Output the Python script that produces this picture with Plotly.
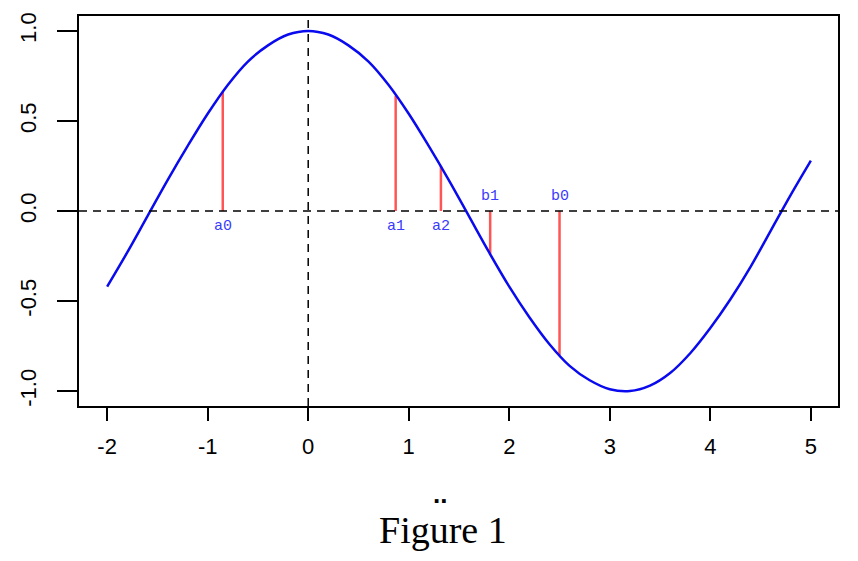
import plotly.graph_objects as go

# curve samples
curve_x = [-2.0, -1.8, -1.6, -1.4, -1.2, -1.0, -0.8, -0.6, -0.4, -0.2, 0.0,
           0.2, 0.4, 0.6, 0.8, 1.0, 1.2, 1.4, 1.6, 1.8, 2.0, 2.2, 2.4, 2.6,
           2.8, 3.0, 3.2, 3.4, 3.6, 3.8, 4.0, 4.2, 4.4, 4.6, 4.8, 5.0]
curve_y = [-0.42, -0.23, -0.03, 0.17, 0.36, 0.54, 0.70, 0.83, 0.92, 0.98, 1.00,
           0.98, 0.92, 0.83, 0.70, 0.54, 0.36, 0.17, -0.03, -0.23, -0.42, -0.59,
           -0.74, -0.86, -0.94, -0.99, -1.00, -0.97, -0.90, -0.79, -0.65, -0.49,
           -0.31, -0.11, 0.09, 0.28]

# marked points
mark_labels = ["a0", "a1", "a2", "b1", "b0"]
mark_x = [-0.85, 0.87, 1.32, 1.81, 2.50]
mark_y = [0.66, 0.64, 0.25, -0.24, -0.80]

x_ticks = [-2, -1, 0, 1, 2, 3, 4, 5]
x_tick_text = ["-2", "-1", "0", "1", "2", "3", "4", "5"]
y_ticks = [-1.0, -0.5, 0.0, 0.5, 1.0]
y_tick_text = ["-1.0", "-0.5", "0.0", "0.5", "1.0"]

fig = go.Figure()

# red vertical segments
for mx, my in zip(mark_x, mark_y):
    fig.add_trace(go.Scatter(x=[mx, mx], y=[0, my], mode="lines",
                             line=dict(color="#ff5555", width=2.5),
                             showlegend=False, hoverinfo="skip"))

fig.add_trace(go.Scatter(x=curve_x, y=curve_y, mode="lines",
                         line=dict(color="#0a0aee", width=2.5, shape="spline"),
                         showlegend=False))

fig.add_hline(y=0, line=dict(color="black", width=1.5, dash="8px,6px"))
fig.add_vline(x=0, line=dict(color="black", width=1.5, dash="8px,6px"))

for lab, mx in zip(mark_labels, mark_x):
    fig.add_annotation(x=mx, y=0, text=lab, showarrow=False,
                       yshift=-15 if lab.startswith("a") else 15,
                       font=dict(family="Liberation Mono", size=15, color="#3a3aff"))

fig.add_annotation(x=0.475, y=-0.225, xref="paper", yref="paper", text="<b>..</b>",
                   showarrow=False, yanchor="middle",
                   font=dict(family="Liberation Sans", size=26, color="black"))
fig.add_annotation(x=0.48, y=-0.318, xref="paper", yref="paper", text="Figure 1",
                   showarrow=False, yanchor="middle",
                   font=dict(family="Liberation Serif", size=38, color="black"))

fig.update_layout(
    width=858, height=561,
    margin=dict(l=79, r=20, t=16, b=155, autoexpand=False),
    paper_bgcolor="white", plot_bgcolor="white",
    xaxis=dict(range=[-2.28, 5.27], tickvals=x_ticks, ticktext=x_tick_text,
               showgrid=False, zeroline=False, automargin=False,
               showline=True, linecolor="black", linewidth=2, mirror=True,
               ticks="outside", ticklen=13, tickwidth=2, tickcolor="black",
               ticklabelstandoff=7,
               tickfont=dict(family="Liberation Sans", size=22, color="black")),
    yaxis=dict(range=[-1.083, 1.083], tickvals=y_ticks, ticktext=y_tick_text,
               showgrid=False, zeroline=False, automargin=False,
               showline=True, linecolor="black", linewidth=2, mirror=True,
               ticks="outside", ticklen=20, tickwidth=2, tickcolor="black",
               tickangle=-90, ticklabelstandoff=12,
               tickfont=dict(family="Liberation Sans", size=22, color="black")),
)

fig.write_html("out.html", config={"displayModeBar": False},
               post_script="document.body.style.margin='0px';")
